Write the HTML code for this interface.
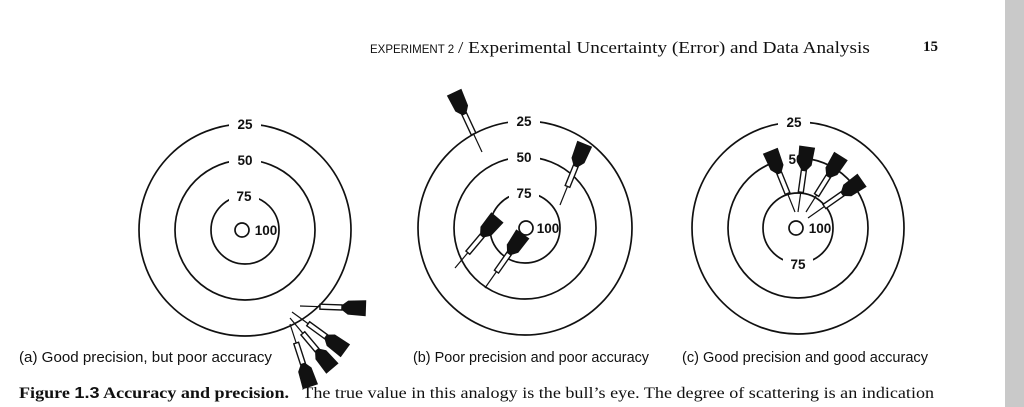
<!DOCTYPE html>
<html><head><meta charset="utf-8"><style>
body{margin:0;width:1024px;height:407px;background:#fff;overflow:hidden;position:relative;font-family:"Liberation Sans",sans-serif}
.t{position:absolute;white-space:nowrap;color:#111;transform-origin:0 0}
</style></head><body>
<div style="position:absolute;left:1005px;top:0;width:19px;height:407px;background:#c9c9c9"></div>
<div class="t" style="left:370px;top:40px;font-size:14px"><span style="font-size:11.5px">EXPERIMENT 2</span></div>
<div class="t" style="left:458px;top:38px;font-family:'Liberation Serif',serif;font-size:17px;transform:scaleX(1.13)">/ Experimental Uncertainty (Error) and Data Analysis</div>
<div class="t" style="left:923px;top:39px;font-family:'Liberation Serif',serif;font-weight:bold;font-size:15px">15</div>
<svg width="1024" height="407" style="position:absolute;left:0;top:0" font-family="Liberation Sans,sans-serif">
<defs>
<g id="d">
<line x1="0" y1="0" x2="20" y2="0" stroke="#111" stroke-width="1.2"/>
<rect x="20" y="-2.5" width="22" height="5" fill="#fff" stroke="#111" stroke-width="1.4"/>
<polygon points="42,-2.5 48,-7 66,-8 66,8 48,7 42,2.5" fill="#111"/>
</g>
</defs>
<g fill="none" stroke="#111" stroke-width="1.7">
<circle cx="245" cy="230" r="106"/><circle cx="245" cy="230" r="70"/><circle cx="245" cy="230" r="34"/><circle cx="242" cy="230" r="7"/>
<circle cx="525" cy="228" r="107"/><circle cx="525" cy="228" r="71"/><circle cx="525" cy="228" r="35"/><circle cx="526" cy="228" r="7"/>
<circle cx="798" cy="228" r="106"/><circle cx="798" cy="228" r="70"/><circle cx="798" cy="228" r="35"/><circle cx="796" cy="228" r="7"/>
</g>
<g font-size="13.5" fill="#111" text-anchor="middle" font-weight="bold">
<rect x="229" y="116" width="32" height="15" fill="#fff"/><text x="245" y="129">25</text>
<rect x="229" y="152" width="32" height="15" fill="#fff"/><text x="245" y="165">50</text>
<rect x="229" y="189" width="30" height="15" fill="#fff"/><text x="244" y="201">75</text>
<text x="266" y="235">100</text>
<rect x="508" y="113" width="32" height="15" fill="#fff"/><text x="524" y="126">25</text>
<rect x="508" y="149" width="32" height="15" fill="#fff"/><text x="524" y="162">50</text>
<rect x="509" y="185" width="30" height="15" fill="#fff"/><text x="524" y="198">75</text>
<text x="548" y="233">100</text>
<rect x="778" y="114" width="32" height="15" fill="#fff"/><text x="794" y="127">25</text>
<rect x="781" y="151" width="30" height="15" fill="#fff"/><text x="796" y="164">50</text>
<rect x="783" y="256" width="30" height="15" fill="#fff"/><text x="798" y="269">75</text>
<text x="820" y="233">100</text>
</g>
<use href="#d" transform="translate(300,306) rotate(2)"/>
<use href="#d" transform="translate(292,312) rotate(36)"/>
<use href="#d" transform="translate(290,318) rotate(50)"/>
<use href="#d" transform="translate(290,324) rotate(72)"/>
<use href="#d" transform="translate(482,152) rotate(-115)"/>
<use href="#d" transform="translate(560,205) rotate(-68)"/>
<use href="#d" transform="translate(455,268) rotate(-50)"/>
<use href="#d" transform="translate(485,288) rotate(-55)"/>
<use href="#d" transform="translate(795,212) rotate(-112)"/>
<use href="#d" transform="translate(798,212) rotate(-82)"/>
<use href="#d" transform="translate(806,212) rotate(-58)"/>
<use href="#d" transform="translate(808,218) rotate(-35)"/>
<g font-size="14.5" fill="#111">
<text x="19" y="362" textLength="253" lengthAdjust="spacingAndGlyphs">(a) Good precision, but poor accuracy</text>
<text x="413" y="362" textLength="236" lengthAdjust="spacingAndGlyphs">(b) Poor precision and poor accuracy</text>
<text x="682" y="362" textLength="246" lengthAdjust="spacingAndGlyphs">(c) Good precision and good accuracy</text>
</g>
</svg>
<div class="t" style="left:19px;top:385px;font-family:'Liberation Serif',serif;font-size:16px;transform:scaleX(1.13)"><b>Figure <span style="font-family:'Liberation Sans',sans-serif">1.3</span> Accuracy and precision.</b>&nbsp;&nbsp; The true value in this analogy is the bull’s eye. The degree of scattering is an indication</div>
</body></html>
